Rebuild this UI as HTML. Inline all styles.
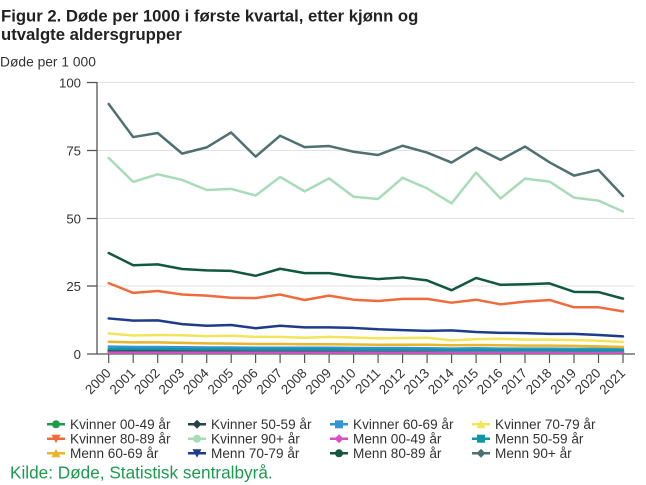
<!DOCTYPE html>
<html>
<head>
<meta charset="utf-8">
<style>
  html,body{margin:0;padding:0;background:#fff;}
  svg{display:block;}
  text{font-family:"Liberation Sans",Arial,sans-serif;}
</style>
</head>
<body>
<svg width="646" height="485" viewBox="0 0 646 485" xmlns="http://www.w3.org/2000/svg">
  <rect width="646" height="485" fill="#fff"/>
  <!-- Title -->
  <text x="1" y="21.5" font-size="16.7" font-weight="bold" fill="#222">Figur 2. Døde per 1000 i første kvartal, etter kjønn og</text>
  <text x="1" y="40" font-size="16.7" font-weight="bold" fill="#222">utvalgte aldersgrupper</text>
  <text x="0" y="66.5" font-size="13.8" fill="#333">Døde per 1 000</text>

  <!-- Gridlines -->
  <g stroke="#e3e3e3" stroke-width="1">
    <line x1="97" y1="82.5" x2="635" y2="82.5"/>
    <line x1="97" y1="150.5" x2="635" y2="150.5"/>
    <line x1="97" y1="218.5" x2="635" y2="218.5"/>
    <line x1="97" y1="286" x2="635" y2="286"/>
  </g>
  <!-- Axes -->
  <g stroke="#555" stroke-width="1.3">
    <line x1="97" y1="82" x2="97" y2="354"/>
    <line x1="87" y1="354" x2="635" y2="354"/>
    <line x1="87" y1="82.5" x2="97" y2="82.5"/>
    <line x1="87" y1="150.5" x2="97" y2="150.5"/>
    <line x1="87" y1="218.5" x2="97" y2="218.5"/>
    <line x1="87" y1="286" x2="97" y2="286"/>
  </g>
  <!-- Y labels -->
  <g font-size="13.2" fill="#333" text-anchor="end">
    <text x="81" y="87.5">100</text>
    <text x="81" y="155.5">75</text>
    <text x="81" y="223.5">50</text>
    <text x="81" y="291">25</text>
    <text x="81" y="359">0</text>
  </g>
  <!-- X ticks -->
  <g stroke="#555" stroke-width="1.2">
    <line x1="108.7" y1="354" x2="108.7" y2="363"/>
    <line x1="133.2" y1="354" x2="133.2" y2="363"/>
    <line x1="157.7" y1="354" x2="157.7" y2="363"/>
    <line x1="182.2" y1="354" x2="182.2" y2="363"/>
    <line x1="206.7" y1="354" x2="206.7" y2="363"/>
    <line x1="231.2" y1="354" x2="231.2" y2="363"/>
    <line x1="255.6" y1="354" x2="255.6" y2="363"/>
    <line x1="280.1" y1="354" x2="280.1" y2="363"/>
    <line x1="304.6" y1="354" x2="304.6" y2="363"/>
    <line x1="329.1" y1="354" x2="329.1" y2="363"/>
    <line x1="353.6" y1="354" x2="353.6" y2="363"/>
    <line x1="378.1" y1="354" x2="378.1" y2="363"/>
    <line x1="402.6" y1="354" x2="402.6" y2="363"/>
    <line x1="427.1" y1="354" x2="427.1" y2="363"/>
    <line x1="451.6" y1="354" x2="451.6" y2="363"/>
    <line x1="476.1" y1="354" x2="476.1" y2="363"/>
    <line x1="500.5" y1="354" x2="500.5" y2="363"/>
    <line x1="525" y1="354" x2="525" y2="363"/>
    <line x1="549.5" y1="354" x2="549.5" y2="363"/>
    <line x1="574" y1="354" x2="574" y2="363"/>
    <line x1="598.5" y1="354" x2="598.5" y2="363"/>
    <line x1="623" y1="354" x2="623" y2="363"/>
  </g>
  <!-- X labels -->
  <g font-size="13.4" fill="#333" text-anchor="end">
    <text transform="translate(111.7,374) rotate(-45)">2000</text>
    <text transform="translate(136.2,374) rotate(-45)">2001</text>
    <text transform="translate(160.7,374) rotate(-45)">2002</text>
    <text transform="translate(185.2,374) rotate(-45)">2003</text>
    <text transform="translate(209.7,374) rotate(-45)">2004</text>
    <text transform="translate(234.2,374) rotate(-45)">2005</text>
    <text transform="translate(258.6,374) rotate(-45)">2006</text>
    <text transform="translate(283.1,374) rotate(-45)">2007</text>
    <text transform="translate(307.6,374) rotate(-45)">2008</text>
    <text transform="translate(332.1,374) rotate(-45)">2009</text>
    <text transform="translate(356.6,374) rotate(-45)">2010</text>
    <text transform="translate(381.1,374) rotate(-45)">2011</text>
    <text transform="translate(405.6,374) rotate(-45)">2012</text>
    <text transform="translate(430.1,374) rotate(-45)">2013</text>
    <text transform="translate(454.6,374) rotate(-45)">2014</text>
    <text transform="translate(479.1,374) rotate(-45)">2015</text>
    <text transform="translate(503.5,374) rotate(-45)">2016</text>
    <text transform="translate(528,374) rotate(-45)">2017</text>
    <text transform="translate(552.5,374) rotate(-45)">2018</text>
    <text transform="translate(577,374) rotate(-45)">2019</text>
    <text transform="translate(601.5,374) rotate(-45)">2020</text>
    <text transform="translate(626,374) rotate(-45)">2021</text>
  </g>

  <!-- Series -->
  <g transform="translate(108.7,354) scale(24.49,-2.715)" fill="none" stroke-linejoin="round" stroke-linecap="round">
    <polyline vector-effect="non-scaling-stroke" stroke="#1a9d49" stroke-width="2.5" points="0,0.35 1,0.35 2,0.35 3,0.35 4,0.35 5,0.35 6,0.35 7,0.35 8,0.35 9,0.35 10,0.35 11,0.35 12,0.35 13,0.35 14,0.35 15,0.35 16,0.35 17,0.35 18,0.35 19,0.35 20,0.35 21,0.35"/>
    <polyline vector-effect="non-scaling-stroke" stroke="#274247" stroke-width="2.5" points="0,1.1 1,1.1 2,1.1 3,1.0 4,1.0 5,1.0 6,1.0 7,1.0 8,0.95 9,0.95 10,0.9 11,0.9 12,0.9 13,0.9 14,0.85 15,0.85 16,0.85 17,0.85 18,0.8 19,0.8 20,0.8 21,0.8"/>
    <polyline vector-effect="non-scaling-stroke" stroke="#3396d2" stroke-width="2.5" points="0,2.7 1,2.6 2,2.6 3,2.5 4,2.4 5,2.4 6,2.3 7,2.3 8,2.3 9,2.3 10,2.2 11,2.2 12,2.2 13,2.1 14,2.0 15,2.1 16,2.0 17,2.0 18,2.0 19,1.9 20,1.9 21,1.8"/>
    <polyline vector-effect="non-scaling-stroke" stroke="#f2e55a" stroke-width="2.5" points="0,7.6 1,6.8 2,7.0 3,6.9 4,6.6 5,6.7 6,6.3 7,6.3 8,6.0 9,6.3 10,6.1 11,5.8 12,5.9 13,6.0 14,5.0 15,5.5 16,5.6 17,5.3 18,5.3 19,5.1 20,4.9 21,4.4"/>
    <polyline vector-effect="non-scaling-stroke" stroke="#f06a3c" stroke-width="2.5" points="0,26.1 1,22.5 2,23.2 3,21.9 4,21.5 5,20.7 6,20.6 7,21.9 8,19.9 9,21.5 10,20.0 11,19.5 12,20.3 13,20.3 14,18.9 15,20.0 16,18.3 17,19.3 18,19.9 19,17.2 20,17.2 21,15.7"/>
    <polyline vector-effect="non-scaling-stroke" stroke="#a8dcb8" stroke-width="2.5" points="0,72.2 1,63.4 2,66.2 3,64.1 4,60.4 5,60.8 6,58.4 7,65.2 8,59.9 9,64.7 10,57.9 11,57.1 12,64.9 13,61.0 14,55.5 15,66.8 16,57.3 17,64.6 18,63.5 19,57.6 20,56.5 21,52.5"/>
    <polyline vector-effect="non-scaling-stroke" stroke="#d84fc4" stroke-width="2.5" points="0,0.5 1,0.5 2,0.5 3,0.5 4,0.5 5,0.5 6,0.5 7,0.5 8,0.5 9,0.5 10,0.5 11,0.5 12,0.5 13,0.5 14,0.5 15,0.5 16,0.5 17,0.5 18,0.5 19,0.5 20,0.5 21,0.5"/>
    <polyline vector-effect="non-scaling-stroke" stroke="#0f95a4" stroke-width="2.5" points="0,1.8 1,1.8 2,1.8 3,1.7 4,1.7 5,1.7 6,1.6 7,1.6 8,1.6 9,1.6 10,1.5 11,1.5 12,1.5 13,1.5 14,1.4 15,1.4 16,1.4 17,1.4 18,1.4 19,1.3 20,1.3 21,1.3"/>
    <polyline vector-effect="non-scaling-stroke" stroke="#eab52a" stroke-width="2.5" points="0,4.5 1,4.3 2,4.3 3,4.1 4,3.9 5,3.8 6,3.7 7,3.7 8,3.6 9,3.6 10,3.5 11,3.4 12,3.4 13,3.4 14,3.2 15,3.3 16,3.2 17,3.1 18,3.1 19,3.0 20,2.8 21,2.6"/>
    <polyline vector-effect="non-scaling-stroke" stroke="#1f3c8c" stroke-width="2.5" points="0,13.1 1,12.3 2,12.4 3,11.0 4,10.4 5,10.7 6,9.5 7,10.4 8,9.8 9,9.8 10,9.6 11,9.1 12,8.8 13,8.5 14,8.7 15,8.1 16,7.8 17,7.7 18,7.4 19,7.4 20,7.0 21,6.5"/>
    <polyline vector-effect="non-scaling-stroke" stroke="#12573f" stroke-width="2.5" points="0,37.2 1,32.7 2,33.0 3,31.3 4,30.8 5,30.6 6,28.8 7,31.4 8,29.8 9,29.8 10,28.4 11,27.6 12,28.2 13,27.1 14,23.5 15,28.0 16,25.5 17,25.7 18,26.0 19,22.9 20,22.8 21,20.4"/>
    <polyline vector-effect="non-scaling-stroke" stroke="#4f7070" stroke-width="2.5" points="0,92.1 1,79.9 2,81.4 3,73.8 4,76.1 5,81.6 6,72.7 7,80.4 8,76.2 9,76.6 10,74.5 11,73.3 12,76.7 13,74.2 14,70.5 15,76.0 16,71.5 17,76.4 18,70.6 19,65.7 20,67.8 21,58.2"/>
  </g>

  <!-- Legend -->
  <g font-size="13.6" fill="#333">
    <!-- Row 1 -->
    <line x1="47" y1="424.3" x2="65" y2="424.3" stroke="#1a9d49" stroke-width="2.5"/>
    <circle cx="56" cy="424.3" r="4" fill="#1a9d49"/>
    <text x="70" y="429">Kvinner 00-49 år</text>

    <line x1="188" y1="424.3" x2="206" y2="424.3" stroke="#274247" stroke-width="2.5"/>
    <path d="M197 419.8 L201.5 424.3 L197 428.8 L192.5 424.3 Z" fill="#274247"/>
    <text x="211" y="429">Kvinner 50-59 år</text>

    <line x1="330" y1="424.3" x2="348" y2="424.3" stroke="#3396d2" stroke-width="2.5"/>
    <rect x="335" y="420.3" width="8" height="8" fill="#3396d2"/>
    <text x="353" y="429">Kvinner 60-69 år</text>

    <line x1="472" y1="424.3" x2="490" y2="424.3" stroke="#f2e55a" stroke-width="2.5"/>
    <path d="M481 419.8 L485.5 428.3 L476.5 428.3 Z" fill="#f2e55a"/>
    <text x="495" y="429">Kvinner 70-79 år</text>

    <!-- Row 2 -->
    <line x1="47" y1="438.7" x2="65" y2="438.7" stroke="#f06a3c" stroke-width="2.5"/>
    <path d="M51.5 434.7 L60.5 434.7 L56 443.2 Z" fill="#f06a3c"/>
    <text x="70" y="443.4">Kvinner 80-89 år</text>

    <line x1="188" y1="438.7" x2="206" y2="438.7" stroke="#a8dcb8" stroke-width="2.5"/>
    <circle cx="197" cy="438.7" r="4" fill="#a8dcb8"/>
    <text x="211" y="443.4">Kvinner 90+ år</text>

    <line x1="330" y1="438.7" x2="348" y2="438.7" stroke="#d84fc4" stroke-width="2.5"/>
    <path d="M339 434.2 L343.5 438.7 L339 443.2 L334.5 438.7 Z" fill="#d84fc4"/>
    <text x="353" y="443.4">Menn 00-49 år</text>

    <line x1="472" y1="438.7" x2="490" y2="438.7" stroke="#0f95a4" stroke-width="2.5"/>
    <rect x="477" y="434.7" width="8" height="8" fill="#0f95a4"/>
    <text x="495" y="443.4">Menn 50-59 år</text>

    <!-- Row 3 -->
    <line x1="47" y1="453.3" x2="65" y2="453.3" stroke="#eab52a" stroke-width="2.5"/>
    <path d="M56 448.8 L60.5 457.3 L51.5 457.3 Z" fill="#eab52a"/>
    <text x="70" y="458">Menn 60-69 år</text>

    <line x1="188" y1="453.3" x2="206" y2="453.3" stroke="#1f3c8c" stroke-width="2.5"/>
    <path d="M192.5 449.3 L201.5 449.3 L197 457.8 Z" fill="#1f3c8c"/>
    <text x="211" y="458">Menn 70-79 år</text>

    <line x1="330" y1="453.3" x2="348" y2="453.3" stroke="#12573f" stroke-width="2.5"/>
    <circle cx="339" cy="453.3" r="4" fill="#12573f"/>
    <text x="353" y="458">Menn 80-89 år</text>

    <line x1="472" y1="453.3" x2="490" y2="453.3" stroke="#4f7070" stroke-width="2.5"/>
    <path d="M481 448.8 L485.5 453.3 L481 457.8 L476.5 453.3 Z" fill="#4f7070"/>
    <text x="495" y="458">Menn 90+ år</text>
  </g>

  <!-- Source -->
  <text x="10" y="478.3" font-size="17.2" fill="#1d9a50">Kilde: Døde, Statistisk sentralbyrå.</text>
</svg>
</body>
</html>
